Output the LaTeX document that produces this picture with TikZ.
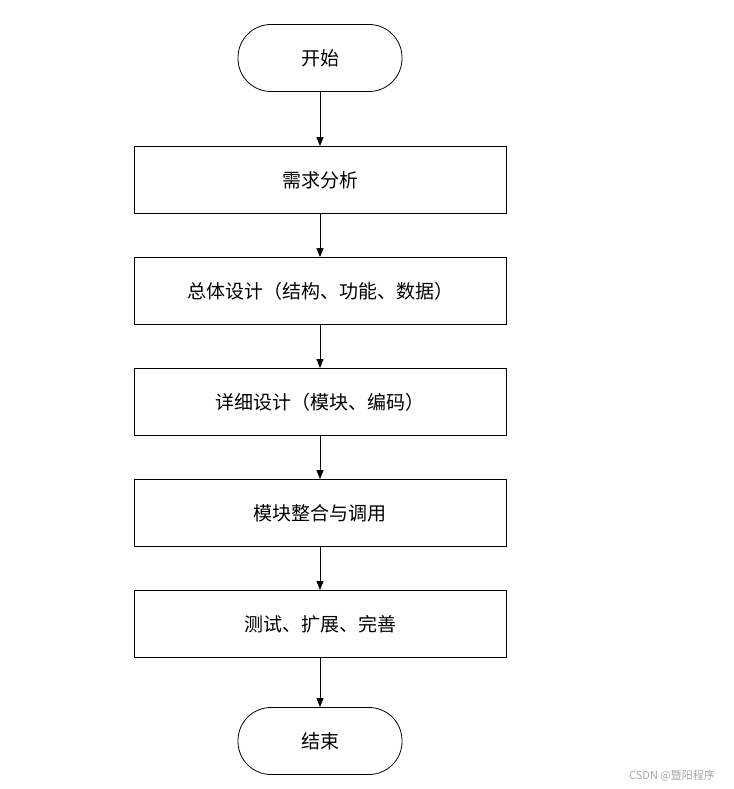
\documentclass[tikz,border=0pt]{standalone}
\usepackage{fontspec}
\newfontfamily\cjk{Noto Sans CJK SC}
\usetikzlibrary{arrows.meta}
\begin{document}
\begin{tikzpicture}[x=1pt,y=-1pt,
  term/.style={draw,line width=0.8pt,rounded corners=33pt,minimum width=164pt,minimum height=67pt,font=\cjk\fontsize{19}{22}\selectfont},
  proc/.style={draw,line width=0.8pt,minimum width=372pt,minimum height=67pt,font=\cjk\fontsize{19}{22}\selectfont},
  arr/.style={-{Triangle[length=9pt,width=7pt]},line width=0.8pt}]
\useasboundingbox (0,0) rectangle (733,789);
\node[term] (s) at (320,58) {开始};
\node[proc] (a) at (320,180) {需求分析};
\node[proc] (b) at (320,291) {总体设计（结构、功能、数据）};
\node[proc] (c) at (320,402) {详细设计（模块、编码）};
\node[proc] (d) at (320,513) {模块整合与调用};
\node[proc] (e) at (320,624) {测试、扩展、完善};
\node[term] (t) at (320,741) {结束};
\draw[arr] (s) -- (a);
\draw[arr] (a) -- (b);
\draw[arr] (b) -- (c);
\draw[arr] (c) -- (d);
\draw[arr] (d) -- (e);
\draw[arr] (e) -- (t);
\node[font=\cjk\fontsize{11}{13}\selectfont,text=gray!70] (w) at (672,776) {CSDN @暨阳程序};
\end{tikzpicture}
\end{document}
